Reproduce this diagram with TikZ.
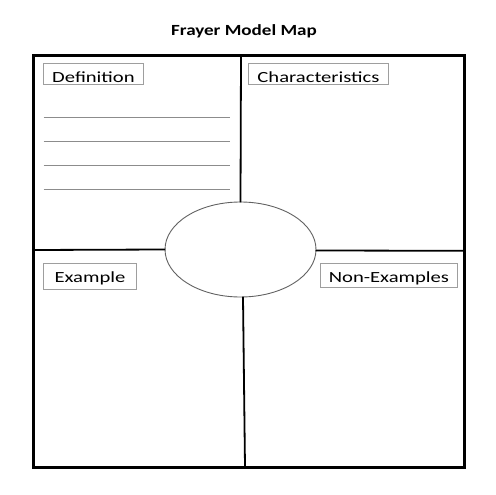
\documentclass[tikz,border=0pt]{standalone}
\usepackage{fontspec}
\usepackage{graphicx}
\setmainfont{Carlito}
\usetikzlibrary{shapes.geometric}

\newcommand{\widetext}[2]{\scalebox{#1}[1]{#2}}

\begin{document}
\begin{tikzpicture}[x=1pt,y=-1pt,
    label box/.style={draw=black!38,line width=0.9pt,rectangle,anchor=north west,inner xsep=0pt,inner ysep=0pt,text height=18.7pt,font=\fontsize{15.5}{17}\selectfont},
    rule line/.style={draw=black!45,line width=1pt},
    divider/.style={line width=1.8pt,line cap=rect}]
    \useasboundingbox (0,0) rectangle (495,495);
    \node [anchor=base,font=\bfseries\fontsize{15.5}{18}\selectfont] (title) at (244,35.3) {\widetext{1.23}{Frayer Model Map}};
    \node [draw=black!62,line width=0.9pt,ellipse,minimum width=151pt,minimum height=95pt,inner sep=0pt] (oval) at (240.5,249.5) {};
    \coordinate (topmid) at (241,56);
    \coordinate (botmid) at (245,467);
    \coordinate (leftmid) at (33.5,250);
    \coordinate (rightmid) at (464,250.8);
    \draw [divider] (topmid) -- (oval.north);
    \draw [divider] ([xshift=2.5pt]oval.south) -- (botmid);
    \draw [divider] (leftmid) -- (oval.west);
    \draw [divider] ([yshift=-1pt]oval.east) -- (rightmid);
    \draw [line width=3pt] (33.5,56) rectangle (464,467);
    \node [label box,minimum width=100pt,text depth=2.3pt] (definition) at (43,63) {\widetext{1.33}{Definition}};
    \node [label box,minimum width=140pt,text depth=2.3pt] (characteristics) at (248,63) {\widetext{1.33}{Characteristics}};
    \node [label box,minimum width=93pt,text depth=7.3pt] (example) at (43,263) {\widetext{1.33}{Example}};
    \node [label box,minimum width=137pt,text depth=5.3pt] (nonexamples) at (320,263) {\widetext{1.33}{Non-Examples}};
    \draw [rule line] (43.5,117.3) -- (230,117.3);
    \draw [rule line] (43.5,141) -- (230,141);
    \draw [rule line] (43.5,165.3) -- (230,165.3);
    \draw [rule line] (43.5,189.3) -- (230,189.3);
\end{tikzpicture}
\end{document}
